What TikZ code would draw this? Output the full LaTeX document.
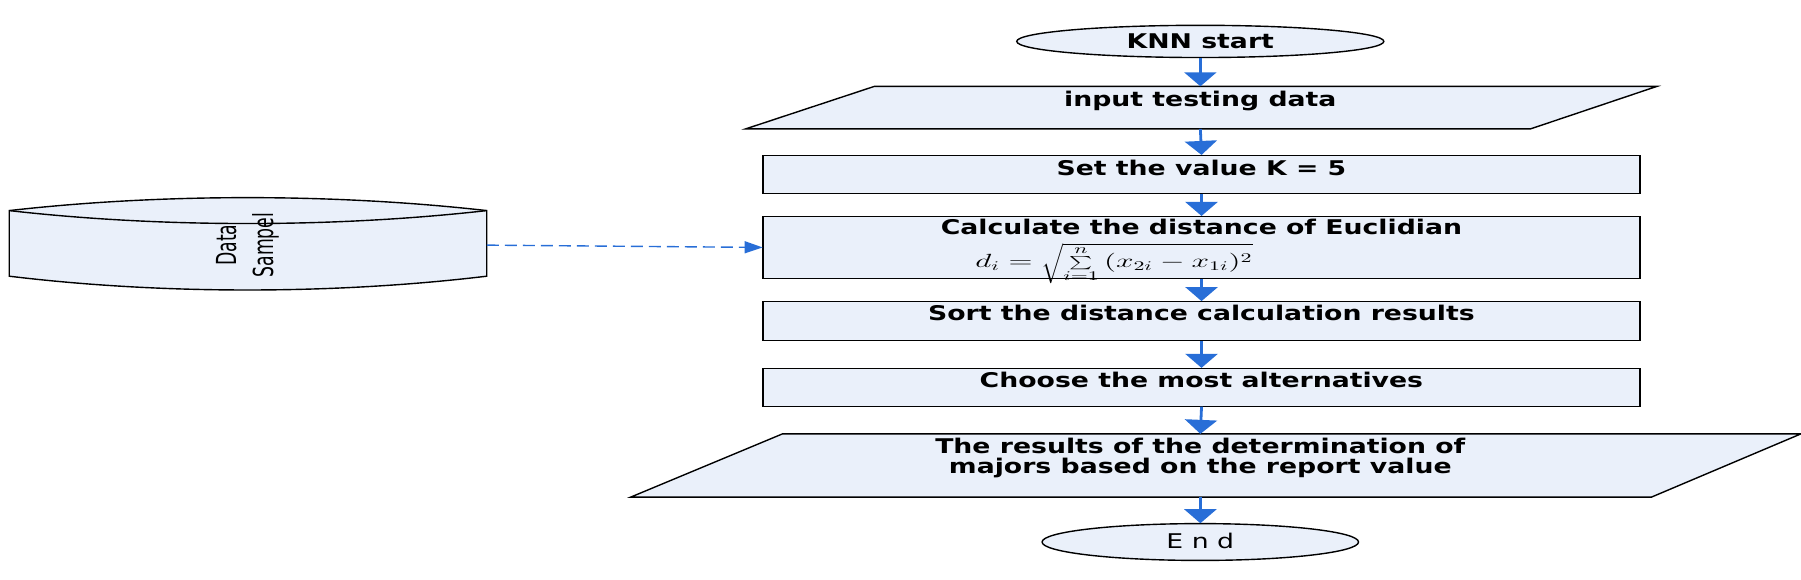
\documentclass[tikz,border=0pt]{standalone}
\usepackage{fontspec}
\setmainfont{DejaVu Sans}
\usetikzlibrary{arrows.meta,shapes.geometric}
\definecolor{fillb}{RGB}{234,240,250}
\definecolor{arr}{RGB}{40,110,215}
\newcommand{\wtxt}[1]{\scalebox{1.45}[1.1]{\bfseries #1}}
\tikzset{
 shp/.style={draw=black,line width=0.7pt,fill=fillb},
 flow/.style={draw=arr,line width=1.4pt,-{Triangle[width=16pt,length=7pt]}},
 lbl/.style={font=\fontsize{16}{18}\selectfont,inner sep=0pt,align=center}
}
\begin{document}
\begin{tikzpicture}[x=1pt,y=-1pt,scale=0.5754,every node/.append style={transform shape}]
\useasboundingbox (0,0) rectangle (1565,504);
% start
\node[shp,ellipse,minimum width=319pt,minimum height=28pt,inner sep=0pt] (start) at (1043,36) {};
\node[lbl] at (1043,36) {\wtxt{KNN start}};
% input
\path[shp] (760,75) -- (1440,75) -- (1330,112) -- (648,112) -- cycle;
\coordinate (inT) at (1043,75); \coordinate (inB) at (1043,112);
\node[lbl] at (1043,88) {\wtxt{input testing data}};
% boxes
\node[shp,rectangle,minimum width=762pt,minimum height=33pt] (setk) at (1044,151.5) {};
\node[lbl] at (1044,146) {\wtxt{Set the value K = 5}};
\node[shp,rectangle,minimum width=762pt,minimum height=54pt] (euc) at (1044,215) {};
\node[lbl] at (1044,197) {\wtxt{Calculate the distance of Euclidian}};
\node[inner sep=0pt,font=\fontsize{14}{16}\selectfont] at (968,229) {\scalebox{1.9}[1.15]{$d_i=\sqrt{\sum\limits_{i=1}^{n}\,(x_{2i}-x_{1i})^2}$}};
\node[shp,rectangle,minimum width=762pt,minimum height=34pt] (sort) at (1044,279) {};
\node[lbl] at (1044,272) {\wtxt{Sort the distance calculation results}};
\node[shp,rectangle,minimum width=762pt,minimum height=33pt] (choose) at (1044,336.5) {};
\node[lbl] at (1044,330) {\wtxt{Choose the most alternatives}};
% result
\path[shp] (680,377) -- (1565,377) -- (1435,432) -- (548,432) -- cycle;
\coordinate (reT) at (1043,377); \coordinate (reB) at (1043,432);
\node[lbl] at (1043,398) {\wtxt{The results of the determination of}\\[-1pt]\wtxt{majors based on the report value}};
% end
\node[shp,ellipse,minimum width=275pt,minimum height=32pt,inner sep=0pt] (endn) at (1043,471) {};
\node[lbl] at (1043,470) {\scalebox{1.45}[1.1]{E n d}};
% data sample
\path[shp] (8,183) .. controls (140,168) and (290,168) .. (423,183) -- (423,240) .. controls (290,256) and (140,256) .. (8,240) -- cycle;
\draw[line width=0.7pt] (8,183) .. controls (140,198) and (290,198) .. (423,183);
\node[inner sep=0pt,rotate=90,align=center,font=\fontsize{15}{32}\selectfont] (ds) at (215,213) {\scalebox{1}[1.6]{Data}\\\scalebox{1}[1.6]{Sampel}};
\coordinate (dsR) at (423,213);
% connectors
\draw[flow] (start.south) -- (inT);
\draw[flow] (inB) -- (setk.north);
\draw[flow] (setk.south) -- (euc.north);
\draw[flow] (euc.south) -- (sort.north);
\draw[flow] (sort.south) -- (choose.north);
\draw[flow] (choose.south) -- (reT);
\draw[flow] (reB) -- (endn.north);
\draw[draw=arr,line width=0.7pt,dash pattern=on 6pt off 3pt,-{Triangle[width=6pt,length=9pt]}] (dsR) -- (euc.west);
\end{tikzpicture}
\end{document}
